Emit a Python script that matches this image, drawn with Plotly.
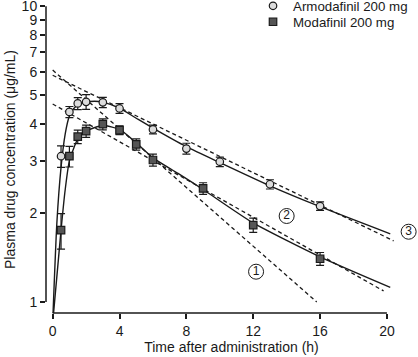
import math
import plotly.graph_objects as go

# ---- data ----
arm_t = [0.5, 1, 1.5, 2, 3, 4, 6, 8, 10, 13, 16]
arm_c = [3.11, 4.39, 4.69, 4.75, 4.73, 4.51, 3.83, 3.30, 2.98, 2.50, 2.11]
arm_err = [0.26, 0.19, 0.22, 0.27, 0.19, 0.17, 0.13, 0.14, 0.11, 0.09, 0.07]

mod_t = [0.5, 1, 1.5, 2, 3, 4, 5, 6, 9, 12, 16]
mod_c = [1.75, 3.11, 3.62, 3.78, 3.99, 3.81, 3.41, 3.02, 2.42, 1.82, 1.40]
mod_err = [0.24, 0.25, 0.19, 0.18, 0.17, 0.13, 0.15, 0.14, 0.11, 0.10, 0.07]

# fitted curves
arm_fit_t = [0, 0.25, 0.5, 0.75, 1, 1.25, 1.5, 2, 2.5, 3, 4, 5, 6, 8, 10, 13, 16, 20.2]
arm_fit_c = [0.85, 1.85, 2.85, 3.7, 4.25, 4.5, 4.63, 4.74, 4.77, 4.74, 4.52, 4.18, 3.87,
             3.35, 2.96, 2.47, 2.10, 1.70]
mod_fit_t = [0, 0.5, 0.75, 1, 1.5, 2, 3, 4, 5, 6, 7.5, 9, 12, 16, 20.2]
mod_fit_c = [0.85, 1.75, 2.4, 3.0, 3.55, 3.78, 3.95, 3.83, 3.45, 3.07, 2.72, 2.40, 1.85,
             1.42, 1.12]

# terminal-phase (dashed) lines
phase1_t = [0, 15.8]
phase1_c = [6.08, 1.0]
phase2_t = [0, 19.8]
phase2_c = [4.67, 1.09]
phase3_t = [0, 20.4]
phase3_c = [5.84, 1.61]

label_text = ["1", "2", "3"]
label_t = [12.17, 14.0, 21.3]
label_c = [1.266, 1.953, 1.728]

x_ticks = [0, 4, 8, 12, 16, 20]
y_ticks = [1, 2, 3, 4, 5, 6, 7, 8, 9, 10]

FONT = "Liberation Sans, Arial, Helvetica, sans-serif"
INK = "#1a1a1a"

fig = go.Figure()

for tt, cc in [(phase1_t, phase1_c), (phase2_t, phase2_c), (phase3_t, phase3_c)]:
    fig.add_trace(go.Scatter(x=tt, y=cc, mode="lines", showlegend=False,
                             line=dict(color=INK, width=1.3, dash="4px,3px"),
                             hoverinfo="skip"))

fig.add_trace(go.Scatter(x=arm_fit_t, y=arm_fit_c, mode="lines", showlegend=False,
                         line=dict(color=INK, width=1.4, shape="spline", smoothing=0.6)))
fig.add_trace(go.Scatter(x=mod_fit_t, y=mod_fit_c, mode="lines", showlegend=False,
                         line=dict(color=INK, width=1.4, shape="spline", smoothing=0.6)))

fig.add_trace(go.Scatter(x=arm_t, y=arm_c, mode="markers", name="Armodafinil 200 mg",
                         legend="legend",
                         error_y=dict(type="data", array=arm_err, color=INK, thickness=1.2, width=4),
                         marker=dict(symbol="circle", size=7.5, color="#dcdcdc",
                                     line=dict(color=INK, width=1.2))))
fig.add_trace(go.Scatter(x=mod_t, y=mod_c, mode="markers", name="Modafinil 200 mg",
                         legend="legend2",
                         error_y=dict(type="data", array=mod_err, color=INK, thickness=1.2, width=4),
                         marker=dict(symbol="square", size=7.5, color="#555555",
                                     line=dict(color=INK, width=1.2))))

fig.add_trace(go.Scatter(x=label_t, y=label_c, mode="markers+text", text=label_text,
                         textposition="middle center", showlegend=False, cliponaxis=False,
                         textfont=dict(family=FONT, size=12, color=INK),
                         marker=dict(symbol="circle-open", size=15, color=INK,
                                     line=dict(color=INK, width=1))))

# detached axis lines
fig.add_shape(type="line", xref="paper", yref="y", x0=0, x1=0, y0=1, y1=10,
              line=dict(color=INK, width=1.5))
fig.add_shape(type="line", xref="x", yref="paper", x0=0, x1=20, y0=0, y1=0,
              line=dict(color=INK, width=1.5))

leg_common = dict(xanchor="left", yanchor="top", bgcolor="rgba(0,0,0,0)",
                  font=dict(size=13.3, family=FONT, color=INK), itemsizing="trace",
                  borderwidth=0)

fig.update_layout(
    template="none",
    width=418, height=357,
    margin=dict(l=46, r=1, t=6, b=44, autoexpand=False),
    paper_bgcolor="white", plot_bgcolor="white",
    font=dict(family=FONT, size=14, color=INK),
    showlegend=True,
    legend=dict(x=0.558, y=1.050, **leg_common),
    legend2=dict(x=0.558, y=0.998, **leg_common),
    xaxis=dict(range=[-0.40, 21.8], tickvals=x_ticks, ticktext=[str(v) for v in x_ticks],
               showgrid=False, zeroline=False, showline=False, ticks="outside",
               ticklen=5, tickwidth=1.5, tickcolor=INK, automargin=False,
               tickfont=dict(size=14), ticklabeloverflow="allow",
               title=dict(text="Time after administration (h)", font=dict(size=14), standoff=2)),
    yaxis=dict(type="log", range=[math.log10(0.918), 1.0005], tickvals=y_ticks,
               ticktext=[str(v) for v in y_ticks],
               showgrid=False, zeroline=False, showline=False, ticks="outside",
               ticklen=5, tickwidth=1.5, tickcolor=INK, automargin=False,
               tickfont=dict(size=14), ticklabeloverflow="allow",
               title=dict(text="Plasma drug concentration (μg/mL)", font=dict(size=14), standoff=2)),
)

fig.write_html("out.html", config={"displayModeBar": False},
               post_script="document.body.style.margin='0';document.body.style.padding='0';")
